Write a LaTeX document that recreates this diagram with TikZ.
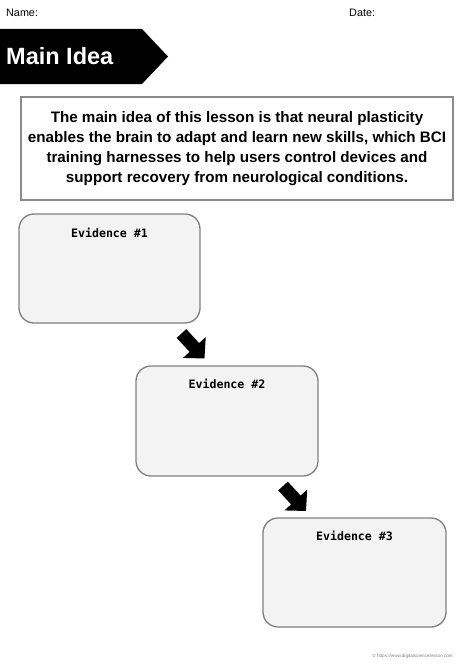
\documentclass[tikz,border=0pt]{standalone}
\usepackage{fontspec}
\setmainfont{Liberation Sans}
\newfontfamily\evmono{DejaVu Sans Mono}
\usetikzlibrary{arrows.meta}
\definecolor{boxfill}{HTML}{F3F3F3}
\definecolor{boxline}{HTML}{808080}
\definecolor{mainline}{HTML}{8A8A8A}
\tikzset{
  headtext/.style={anchor=west, inner sep=0pt, font=\fontsize{10.8}{13}\selectfont},
  evbox/.style={draw=boxline, fill=boxfill, line width=1.3pt, rounded corners=15pt, minimum width=182pt, minimum height=109pt, inner sep=0pt},
  evlabel/.style={inner sep=0pt, font=\evmono\bfseries\fontsize{11.6}{13}\selectfont},
  bigarrow/.style={line width=13pt, -{Triangle[length=15pt,width=30pt]}, black},
}
\begin{document}
\begin{tikzpicture}[x=1pt,y=-1pt]
\useasboundingbox (0,0) rectangle (474,669);
\fill[white] (0,0) rectangle (474,669);
% header
\node[headtext] (name) at (6,12.5) {Name:};
\node[headtext] (date) at (349,12.5) {Date:};
% banner
\fill[black] (0,29) -- (142,29) -- (168,56.5) -- (142,84) -- (0,84) -- cycle;
\node[anchor=west, inner sep=0pt, text=white, font=\bfseries\fontsize{23.5}{26}\selectfont] (title) at (6,56) {Main Idea};
% main idea box
\node[draw=mainline, line width=1.3pt, minimum width=432pt, minimum height=103pt, inner sep=0pt, align=center, font=\bfseries\fontsize{15.2}{20}\selectfont] (main) at (237,148.5)
 {The main idea of this lesson is that neural plasticity\\
  enables the brain to adapt and learn new skills, which BCI\\
  training harnesses to help users control devices and\\
  support recovery from neurological conditions.};
% evidence boxes
\node[evbox, minimum width=181pt] (ev1) at (109.5,268.5) {};
\node[evlabel] (ev1t) at (109.5,233) {Evidence \#1};
\node[evbox, minimum width=182pt, minimum height=110pt] (ev2) at (227,421) {};
\node[evlabel] (ev2t) at (227,384) {Evidence \#2};
\node[evbox, minimum width=183pt] (ev3) at (354.5,572.5) {};
\node[evlabel] (ev3t) at (354.5,536) {Evidence \#3};
% arrows
\coordinate (a1s) at (181.5,333.5);
\coordinate (a1e) at (204.5,358.5);
\coordinate (a2s) at (283,486);
\coordinate (a2e) at (306,511);
\draw[bigarrow] (a1s) -- (a1e);
\draw[bigarrow] (a2s) -- (a2e);
% footer
\node[anchor=east, inner sep=0pt, text=gray, font=\fontsize{4.6}{5}\selectfont] (foot) at (453,656) {\textcopyright\ https://www.digitalsciencelesson.com};
\end{tikzpicture}
\end{document}
